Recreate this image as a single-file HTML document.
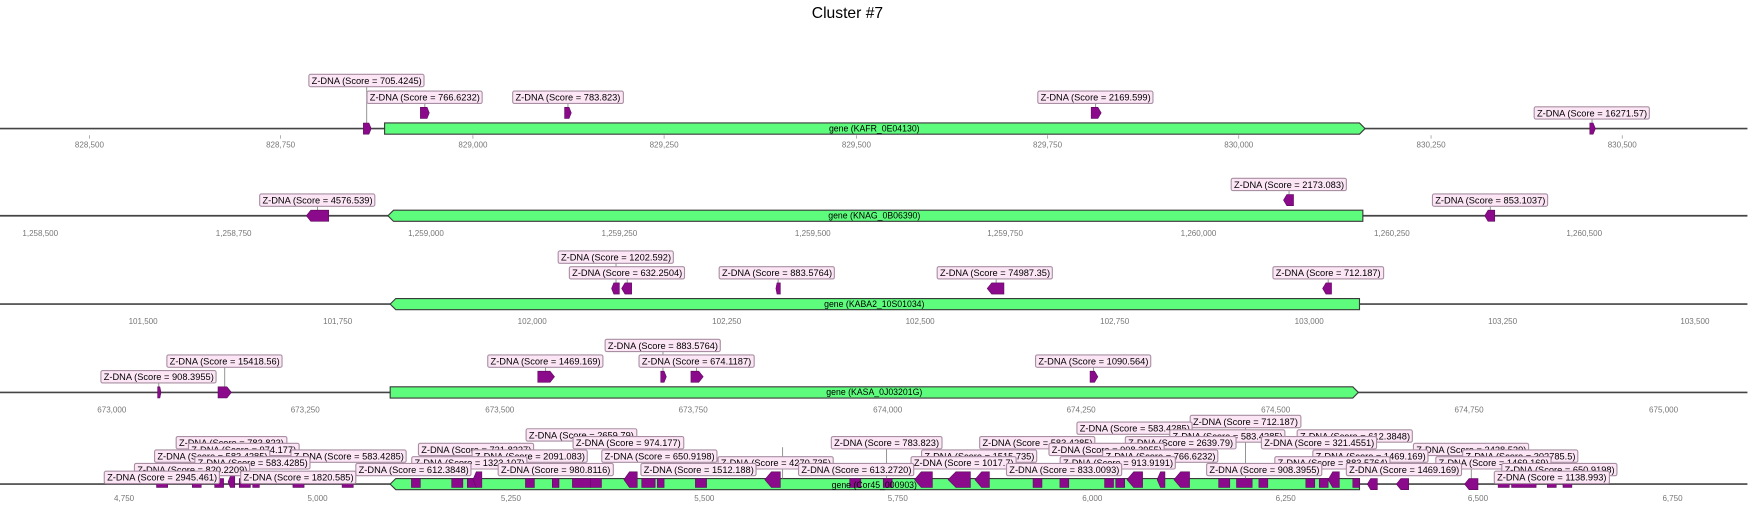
<!DOCTYPE html>
<html><head><meta charset="utf-8"><style>
html,body{margin:0;padding:0;background:#fff;overflow:hidden}
#w{position:absolute;left:0;top:0;width:1568px;height:457px;transform:scale(1.118);transform-origin:0 0;font-family:"Liberation Sans","DejaVu Sans",sans-serif}
svg{position:absolute;left:0;top:0}
.l{position:absolute;transform:translate(-50%,-50%);font-size:8.3px;line-height:10px;padding:0 2px;background:#fce6f6;border:1px solid #a890a2;border-radius:2px;white-space:nowrap;color:#000}
.t{position:absolute;transform:translateX(-50%);font-size:7.2px;color:#777;white-space:nowrap}
.g{position:absolute;transform:translate(-50%,-50%);font-size:7.8px;white-space:nowrap;color:#000}
h1{position:absolute;left:0;width:1516px;top:3px;margin:0;text-align:center;font-weight:normal;font-size:14px}
</style></head><body><div id="w">
<h1>Cluster #7</h1>
<svg width="1568" height="457" viewBox="0 0 1568 457">
<g stroke="#444" stroke-width="1.5">
<line x1="0" y1="115" x2="1563" y2="115"/><line x1="0" y1="193" x2="1563" y2="193"/><line x1="0" y1="272" x2="1563" y2="272"/><line x1="0" y1="351" x2="1563" y2="351"/><line x1="0" y1="433" x2="1563" y2="433"/>
</g>
<g fill="#5dfc7c" stroke="#3a3a3a" stroke-width="1">
<polygon points="344,110 1216,110 1221,115 1216,120 344,120"/>
<polygon points="352,188 1219,188 1219,198 352,198 347,193"/>
<polygon points="354,267 1216,267 1216,277 354,277 349,272"/>
<polygon points="349,346 1210,346 1215,351 1210,356 349,356"/>
<polygon points="354,428 1216,428 1216,438 354,438 349,433"/>
</g>
<g stroke="#888" stroke-width="0.8">
<line x1="328" y1="78" x2="328" y2="110"/><line x1="380" y1="92" x2="380" y2="96"/><line x1="508" y1="92" x2="508" y2="96"/><line x1="980" y1="92" x2="980" y2="96"/><line x1="1424" y1="106" x2="1424" y2="110"/>
<line x1="284" y1="184" x2="284" y2="188"/><line x1="1153" y1="170" x2="1153" y2="174"/><line x1="1333" y1="184" x2="1333" y2="188"/>
<line x1="551" y1="235" x2="551" y2="253"/><line x1="561" y1="249" x2="561" y2="253"/><line x1="696" y1="249" x2="696" y2="253"/><line x1="891" y1="249" x2="891" y2="253"/><line x1="1188" y1="249" x2="1188" y2="253"/>
<line x1="142" y1="342" x2="142" y2="346"/><line x1="201" y1="328" x2="201" y2="346"/><line x1="488" y1="328" x2="488" y2="332"/><line x1="593" y1="314" x2="593" y2="332"/><line x1="623" y1="328" x2="623" y2="332"/><line x1="978" y1="328" x2="978" y2="332"/>
<line x1="793" y1="401" x2="793" y2="428"/><line x1="1114" y1="382" x2="1114" y2="428"/><line x1="1316" y1="407" x2="1316" y2="428"/><line x1="700" y1="400" x2="700" y2="428"/>
</g>
<g fill="#8b0a8b" stroke="#5a0a5a" stroke-width="0.5">
<polygon points="325,110 330,110 332,115 330,120 325,120"/>
<polygon points="376,96 382,96 384,101 382,106 376,106"/>
<polygon points="505,96 509,96 511,101 509,106 505,106"/>
<polygon points="976,96 982,96 985,101 982,106 976,106"/>
<polygon points="1422,110 1425,110 1427,115 1425,120 1422,120"/>
<polygon points="278,188 294,188 294,198 278,198 274,193"/>
<polygon points="1151,174 1157,174 1157,184 1151,184 1148,179"/>
<polygon points="1331,188 1337,188 1337,198 1331,198 1328,193"/>
<polygon points="549,253 554,253 554,263 549,263 547,258"/>
<polygon points="559,253 565,253 565,263 559,263 556,258"/>
<polygon points="695,253 698,253 698,263 695,263 694,258"/>
<polygon points="887,253 898,253 898,263 887,263 883,258"/>
<polygon points="1186,253 1191,253 1191,263 1186,263 1183,258"/>
<polygon points="141,346 143,346 144,351 143,356 141,356"/>
<polygon points="195,346 203,346 207,351 203,356 195,356"/>
<polygon points="481,332 492,332 496,337 492,342 481,342"/>
<polygon points="591,332 594,332 596,337 594,342 591,342"/>
<polygon points="618,332 625,332 629,337 625,342 618,342"/>
<polygon points="975,332 979,332 982,337 979,342 975,342"/>
<g id="b">
<polygon points="140,428 150,428 150,436 140,436"/><polygon points="172,428 180,428 180,436 172,436"/><polygon points="192,428 200,428 200,436 192,436"/><polygon points="206,426 210,426 210,436 206,436 204,431"/><polygon points="214,428 224,428 224,436 214,436"/><polygon points="226,428 232,428 232,436 226,436"/><polygon points="262,428 272,428 272,436 262,436"/><polygon points="306,428 316,428 316,436 306,436"/>
<polygon points="368,428 376,428 376,436 368,436"/><polygon points="404,428 414,428 414,436 404,436"/><polygon points="418,428 426,428 426,436 418,436"/><polygon points="426,422 431,422 431,436 426,436 423,429"/><polygon points="470,428 478,428 478,436 470,436"/><polygon points="494,428 500,428 500,436 494,436"/><polygon points="512,428 528,428 528,436 512,436"/><polygon points="528,428 538,428 538,436 528,436"/><polygon points="563,422 570,422 570,436 563,436 558,429"/><polygon points="574,428 586,428 586,436 574,436"/><polygon points="588,428 594,428 594,436 588,436"/><polygon points="622,428 632,428 632,436 622,436"/><polygon points="690,422 698,422 698,436 690,436 684,429"/>
<polygon points="760,428 770,428 770,436 760,436"/><polygon points="790,428 798,428 798,436 790,436"/><polygon points="824,422 834,422 834,436 824,436 818,429"/><polygon points="855,422 868,422 868,436 855,436 848,429"/><polygon points="878,422 885,422 885,436 878,436 872,429"/><polygon points="924,428 932,428 932,436 924,436"/><polygon points="948,428 956,428 956,436 948,436"/><polygon points="988,428 996,428 996,436 988,436"/><polygon points="998,428 1006,428 1006,436 998,436"/><polygon points="1014,422 1022,422 1022,436 1014,436 1008,429"/><polygon points="1038,422 1042,422 1042,436 1038,436 1035,429"/><polygon points="1056,422 1064,422 1064,436 1056,436 1050,429"/>
<polygon points="1090,428 1100,428 1100,436 1090,436"/><polygon points="1106,428 1120,428 1120,436 1106,436"/><polygon points="1126,428 1134,428 1134,436 1126,436"/><polygon points="1168,428 1176,428 1176,436 1168,436"/><polygon points="1180,428 1188,428 1188,436 1180,436"/><polygon points="1192,422 1198,422 1198,436 1192,436 1188,429"/><polygon points="1210,428 1216,428 1216,436 1210,436"/><polygon points="1226,428 1232,428 1232,438 1226,438 1223,433"/><polygon points="1253,428 1260,428 1260,438 1253,438 1249,433"/><polygon points="1314,428 1322,428 1322,438 1314,438 1310,433"/><polygon points="1340,428 1350,428 1350,436 1340,436"/><polygon points="1352,428 1374,428 1374,436 1352,436"/><polygon points="1384,428 1392,428 1392,436 1384,436"/><polygon points="1398,428 1406,428 1406,436 1398,436"/>
</g></g>
<g stroke="#888" stroke-width="0.6">
<line x1="80" y1="121" x2="80" y2="124"/><line x1="251" y1="121" x2="251" y2="124"/><line x1="423" y1="121" x2="423" y2="124"/><line x1="594" y1="121" x2="594" y2="124"/><line x1="766" y1="121" x2="766" y2="124"/><line x1="937" y1="121" x2="937" y2="124"/><line x1="1108" y1="121" x2="1108" y2="124"/><line x1="1280" y1="121" x2="1280" y2="124"/><line x1="1451" y1="121" x2="1451" y2="124"/>
</g>
</svg>
<div class="g" style="left:782px;top:115px">gene (KAFR_0E04130)</div>
<div class="g" style="left:782px;top:193px">gene (KNAG_0B06390)</div>
<div class="g" style="left:782px;top:272px">gene (KABA2_10S01034)</div>
<div class="g" style="left:782px;top:351px">gene (KASA_0J03201G)</div>
<div class="g" style="left:782px;top:434px">gene (Cor45_000903)</div>

<div class="t" style="left:80px;top:125px">828,500</div><div class="t" style="left:251px;top:125px">828,750</div><div class="t" style="left:423px;top:125px">829,000</div><div class="t" style="left:594px;top:125px">829,250</div><div class="t" style="left:766px;top:125px">829,500</div><div class="t" style="left:937px;top:125px">829,750</div><div class="t" style="left:1108px;top:125px">830,000</div><div class="t" style="left:1280px;top:125px">830,250</div><div class="t" style="left:1451px;top:125px">830,500</div>
<div class="t" style="left:36px;top:204px">1,258,500</div><div class="t" style="left:209px;top:204px">1,258,750</div><div class="t" style="left:381px;top:204px">1,259,000</div><div class="t" style="left:554px;top:204px">1,259,250</div><div class="t" style="left:727px;top:204px">1,259,500</div><div class="t" style="left:899px;top:204px">1,259,750</div><div class="t" style="left:1072px;top:204px">1,260,000</div><div class="t" style="left:1245px;top:204px">1,260,250</div><div class="t" style="left:1417px;top:204px">1,260,500</div>
<div class="t" style="left:128px;top:283px">101,500</div><div class="t" style="left:302px;top:283px">101,750</div><div class="t" style="left:476px;top:283px">102,000</div><div class="t" style="left:650px;top:283px">102,250</div><div class="t" style="left:823px;top:283px">102,500</div><div class="t" style="left:997px;top:283px">102,750</div><div class="t" style="left:1171px;top:283px">103,000</div><div class="t" style="left:1344px;top:283px">103,250</div><div class="t" style="left:1516px;top:283px">103,500</div>
<div class="t" style="left:100px;top:362px">673,000</div><div class="t" style="left:273px;top:362px">673,250</div><div class="t" style="left:447px;top:362px">673,500</div><div class="t" style="left:620px;top:362px">673,750</div><div class="t" style="left:794px;top:362px">674,000</div><div class="t" style="left:967px;top:362px">674,250</div><div class="t" style="left:1141px;top:362px">674,500</div><div class="t" style="left:1314px;top:362px">674,750</div><div class="t" style="left:1488px;top:362px">675,000</div>
<div class="t" style="left:111px;top:441px">4,750</div><div class="t" style="left:284px;top:441px">5,000</div><div class="t" style="left:457px;top:441px">5,250</div><div class="t" style="left:630px;top:441px">5,500</div><div class="t" style="left:803px;top:441px">5,750</div><div class="t" style="left:977px;top:441px">6,000</div><div class="t" style="left:1150px;top:441px">6,250</div><div class="t" style="left:1322px;top:441px">6,500</div><div class="t" style="left:1496px;top:441px">6,750</div>

<div class="l" style="left:328px;top:72px">Z-DNA (Score = 705.4245)</div>
<div class="l" style="left:380px;top:87px">Z-DNA (Score = 766.6232)</div>
<div class="l" style="left:508px;top:87px">Z-DNA (Score = 783.823)</div>
<div class="l" style="left:980px;top:87px">Z-DNA (Score = 2169.599)</div>
<div class="l" style="left:1424px;top:101px">Z-DNA (Score = 16271.57)</div>
<div class="l" style="left:284px;top:179px">Z-DNA (Score = 4576.539)</div>
<div class="l" style="left:1153px;top:165px">Z-DNA (Score = 2173.083)</div>
<div class="l" style="left:1333px;top:179px">Z-DNA (Score = 853.1037)</div>
<div class="l" style="left:551px;top:230px">Z-DNA (Score = 1202.592)</div>
<div class="l" style="left:561px;top:244px">Z-DNA (Score = 632.2504)</div>
<div class="l" style="left:695px;top:244px">Z-DNA (Score = 883.5764)</div>
<div class="l" style="left:890px;top:244px">Z-DNA (Score = 74987.35)</div>
<div class="l" style="left:1188px;top:244px">Z-DNA (Score = 712.187)</div>
<div class="l" style="left:142px;top:337px">Z-DNA (Score = 908.3955)</div>
<div class="l" style="left:201px;top:323px">Z-DNA (Score = 15418.56)</div>
<div class="l" style="left:488px;top:323px">Z-DNA (Score = 1469.169)</div>
<div class="l" style="left:593px;top:309px">Z-DNA (Score = 883.5764)</div>
<div class="l" style="left:623px;top:323px">Z-DNA (Score = 674.1187)</div>
<div class="l" style="left:978px;top:323px">Z-DNA (Score = 1090.564)</div>

<div class="l" style="left:1114px;top:377px">Z-DNA (Score = 712.187)</div>
<div class="l" style="left:1015px;top:383px">Z-DNA (Score = 583.4285)</div>
<div class="l" style="left:520px;top:389px">Z-DNA (Score = 2659.79)</div>
<div class="l" style="left:1098px;top:390px">Z-DNA (Score = 583.4285)</div>
<div class="l" style="left:1212px;top:390px">Z-DNA (Score = 612.3848)</div>
<div class="l" style="left:207px;top:396px">Z-DNA (Score = 783.823)</div>
<div class="l" style="left:562px;top:396px">Z-DNA (Score = 974.177)</div>
<div class="l" style="left:793px;top:396px">Z-DNA (Score = 783.823)</div>
<div class="l" style="left:928px;top:396px">Z-DNA (Score = 583.4285)</div>
<div class="l" style="left:1056px;top:396px">Z-DNA (Score = 2639.79)</div>
<div class="l" style="left:1180px;top:396px">Z-DNA (Score = 321.4551)</div>
<div class="l" style="left:218px;top:402px">Z-DNA (Score = 974.177)</div>
<div class="l" style="left:426px;top:402px">Z-DNA (Score = 731.8227)</div>
<div class="l" style="left:990px;top:402px">Z-DNA (Score = 908.3955)</div>
<div class="l" style="left:1316px;top:402px">Z-DNA (Score = 3428.529)</div>
<div class="l" style="left:190px;top:408px">Z-DNA (Score = 583.4285)</div>
<div class="l" style="left:312px;top:408px">Z-DNA (Score = 583.4285)</div>
<div class="l" style="left:474px;top:408px">Z-DNA (Score = 2091.083)</div>
<div class="l" style="left:590px;top:408px">Z-DNA (Score = 650.9198)</div>
<div class="l" style="left:876px;top:408px">Z-DNA (Score = 1515.735)</div>
<div class="l" style="left:1038px;top:408px">Z-DNA (Score = 766.6232)</div>
<div class="l" style="left:1226px;top:408px">Z-DNA (Score = 1469.169)</div>
<div class="l" style="left:1360px;top:408px">Z-DNA (Score = 302785.5)</div>
<div class="l" style="left:226px;top:414px">Z-DNA (Score = 583.4285)</div>
<div class="l" style="left:420px;top:414px">Z-DNA (Score = 1323.107)</div>
<div class="l" style="left:694px;top:414px">Z-DNA (Score = 4270.735)</div>
<div class="l" style="left:862px;top:414px">Z-DNA (Score = 1017.7)</div>
<div class="l" style="left:1000px;top:414px">Z-DNA (Score = 913.9191)</div>
<div class="l" style="left:1192px;top:414px">Z-DNA (Score = 883.5764)</div>
<div class="l" style="left:1336px;top:414px">Z-DNA (Score = 1469.169)</div>
<div class="l" style="left:172px;top:420px">Z-DNA (Score = 820.2209)</div>
<div class="l" style="left:370px;top:420px">Z-DNA (Score = 612.3848)</div>
<div class="l" style="left:497px;top:420px">Z-DNA (Score = 980.8116)</div>
<div class="l" style="left:625px;top:420px">Z-DNA (Score = 1512.188)</div>
<div class="l" style="left:766px;top:420px">Z-DNA (Score = 613.2720)</div>
<div class="l" style="left:952px;top:420px">Z-DNA (Score = 833.0093)</div>
<div class="l" style="left:1131px;top:420px">Z-DNA (Score = 908.3955)</div>
<div class="l" style="left:1256px;top:420px">Z-DNA (Score = 1469.169)</div>
<div class="l" style="left:1395px;top:420px">Z-DNA (Score = 650.9198)</div>
<div class="l" style="left:145px;top:427px">Z-DNA (Score = 2945.461)</div>
<div class="l" style="left:267px;top:427px">Z-DNA (Score = 1820.585)</div>
<div class="l" style="left:1388px;top:427px">Z-DNA (Score = 1138.993)</div>
</div></body></html>
